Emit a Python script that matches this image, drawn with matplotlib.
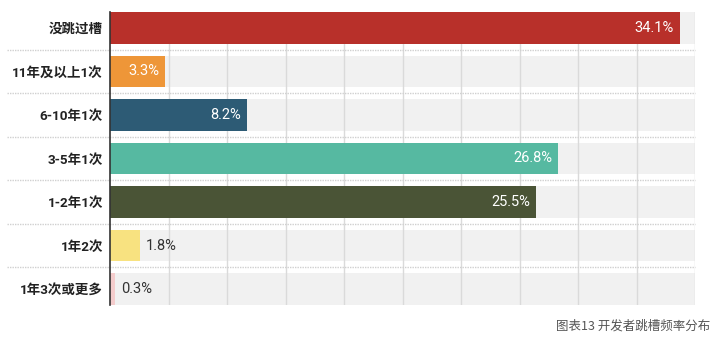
import matplotlib
matplotlib.use("Agg")
import matplotlib.pyplot as plt
from matplotlib.transforms import blended_transform_factory

plt.rcParams['font.family'] = ['Roboto', 'Noto Sans CJK SC', 'DejaVu Sans']

categories = ["没跳过槽", "11年及以上1次", "6-10年1次", "3-5年1次", "1-2年1次", "1年2次", "1年3次或更多"]
values = [34.1, 3.3, 8.2, 26.8, 25.5, 1.8, 0.3]
colors = ["#b8302a", "#ee9638", "#2d5b75", "#56b9a1", "#4a5436", "#f8e280", "#f4cccc"]
XMAX = 35.0
TICK_STEP = 3.5
BAR_H = 0.73

fig = plt.figure(figsize=(7.24, 3.44), dpi=100)
ax = fig.add_axes([110 / 724, 1 - 305 / 344, 585 / 724, 293 / 344])

y = list(range(len(categories)))
# grey background bands
ax.barh(y, [XMAX] * len(y), height=BAR_H, color="#f1f1f1", zorder=1)
# vertical grid
for i in range(1, 11):
    ax.axvline(i * TICK_STEP, color="#dadada", lw=1, zorder=2)
ax.barh(y, values, height=BAR_H, color=colors, zorder=3)

# dotted separators between rows
tr = blended_transform_factory(ax.transAxes, ax.transData)
for k in range(len(y) - 1):
    ax.plot([-103 / 585, 1.0], [k + 0.5, k + 0.5], transform=tr, clip_on=False,
            color="#d0d0d0", lw=1, ls=(0, (1, 0.8)), zorder=2)

for yi, v in zip(y, values):
    if v > 3:
        ax.text(v - 0.35, yi, f"{v}%", ha="right", va="center", color="white",
                fontsize=10.5, zorder=4)
    else:
        ax.text(v + 0.35, yi, f"{v}%", ha="left", va="center", color="#333333",
                fontsize=10.5, zorder=4)

ax.set_xlim(0, XMAX)
ax.set_ylim(len(y) - 1 + BAR_H / 2, -BAR_H / 2)
ax.set_yticks(y)
ax.set_yticklabels(categories, fontsize=9.7, fontweight="bold", color="#222222",
                   family=['Roboto', 'Noto Sans CJK SC', 'DejaVu Sans'])
ax.tick_params(axis="y", length=0, pad=5)
ax.set_xticks([])
for side in ["top", "right", "bottom"]:
    ax.spines[side].set_visible(False)
ax.spines["left"].set_color("#333333")
ax.spines["left"].set_linewidth(1.2)
ax.spines["left"].set_zorder(5)

fig.text(710 / 724, 1 - 326 / 344, "图表13 开发者跳槽频率分布", ha="right", va="center",
         fontsize=9, color="#555555", family=['Noto Sans CJK SC', 'DejaVu Sans'])

fig.savefig("out.png", dpi=100)
